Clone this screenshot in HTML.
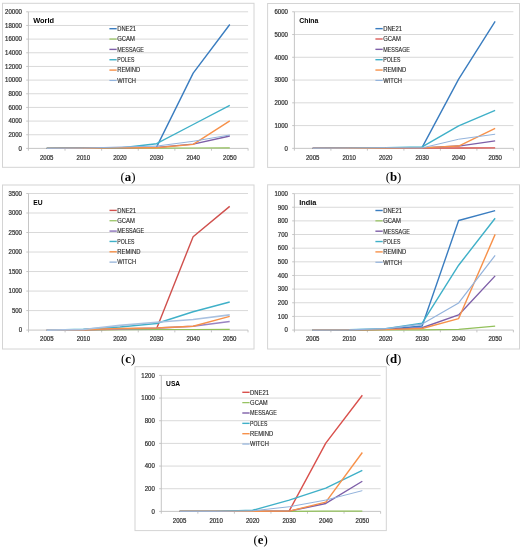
<!DOCTYPE html>
<html><head><meta charset="utf-8"><style>
html,body{margin:0;padding:0;background:#fff;}
body{width:523px;height:550px;overflow:hidden;}
svg{display:block;}
.ax{font-family:"Liberation Sans",Arial,sans-serif;font-size:6.3px;fill:#333333;stroke:#333333;stroke-width:0.22px;}
.lg{font-family:"Liberation Sans",Arial,sans-serif;font-size:6.4px;fill:#262626;stroke:#262626;stroke-width:0.12px;}
.ti{font-family:"Liberation Sans",Arial,sans-serif;font-size:7.9px;font-weight:bold;fill:#000;}
.cap{font-family:"Liberation Serif","Times New Roman",serif;font-size:12.8px;fill:#000;}
</style></head><body>
<svg width="523" height="550" viewBox="0 0 523 550">
<rect width="523" height="550" fill="#fff"/>
<rect x="2.5" y="3.3" width="251.5" height="164" fill="#fff" stroke="#d4d4d4" stroke-width="1"/>
<path d="M28.4 134.74H248.1M28.4 121.08H248.1M28.4 107.42H248.1M28.4 93.76H248.1M28.4 80.1H248.1M28.4 66.44H248.1M28.4 52.78H248.1M28.4 39.12H248.1M28.4 25.46H248.1M28.4 11.8H248.1" stroke="#d9d9d9" stroke-width="1" fill="none"/>
<path d="M28.4 11.8V148.4M26.2 148.4H248.1M26.2 134.74H28.4M26.2 121.08H28.4M26.2 107.42H28.4M26.2 93.76H28.4M26.2 80.1H28.4M26.2 66.44H28.4M26.2 52.78H28.4M26.2 39.12H28.4M26.2 25.46H28.4M26.2 11.8H28.4M28.4 148.4V150.7M65.02 148.4V150.7M101.63 148.4V150.7M138.25 148.4V150.7M174.87 148.4V150.7M211.48 148.4V150.7M248.1 148.4V150.7" stroke="#bfbfbf" stroke-width="0.9" fill="none"/>
<text x="21.9" y="150.7" class="ax" text-anchor="end" textLength="3.37" lengthAdjust="spacingAndGlyphs">0</text>
<text x="21.9" y="137.04" class="ax" text-anchor="end" textLength="13.48" lengthAdjust="spacingAndGlyphs">2000</text>
<text x="21.9" y="123.38" class="ax" text-anchor="end" textLength="13.48" lengthAdjust="spacingAndGlyphs">4000</text>
<text x="21.9" y="109.72" class="ax" text-anchor="end" textLength="13.48" lengthAdjust="spacingAndGlyphs">6000</text>
<text x="21.9" y="96.06" class="ax" text-anchor="end" textLength="13.48" lengthAdjust="spacingAndGlyphs">8000</text>
<text x="21.9" y="82.4" class="ax" text-anchor="end" textLength="16.85" lengthAdjust="spacingAndGlyphs">10000</text>
<text x="21.9" y="68.74" class="ax" text-anchor="end" textLength="16.85" lengthAdjust="spacingAndGlyphs">12000</text>
<text x="21.9" y="55.08" class="ax" text-anchor="end" textLength="16.85" lengthAdjust="spacingAndGlyphs">14000</text>
<text x="21.9" y="41.42" class="ax" text-anchor="end" textLength="16.85" lengthAdjust="spacingAndGlyphs">16000</text>
<text x="21.9" y="27.76" class="ax" text-anchor="end" textLength="16.85" lengthAdjust="spacingAndGlyphs">18000</text>
<text x="21.9" y="14.1" class="ax" text-anchor="end" textLength="16.85" lengthAdjust="spacingAndGlyphs">20000</text>
<text x="46.71" y="159.7" class="ax" text-anchor="middle" textLength="13.48" lengthAdjust="spacingAndGlyphs">2005</text>
<text x="83.32" y="159.7" class="ax" text-anchor="middle" textLength="13.48" lengthAdjust="spacingAndGlyphs">2010</text>
<text x="119.94" y="159.7" class="ax" text-anchor="middle" textLength="13.48" lengthAdjust="spacingAndGlyphs">2020</text>
<text x="156.56" y="159.7" class="ax" text-anchor="middle" textLength="13.48" lengthAdjust="spacingAndGlyphs">2030</text>
<text x="193.18" y="159.7" class="ax" text-anchor="middle" textLength="13.48" lengthAdjust="spacingAndGlyphs">2040</text>
<text x="229.79" y="159.7" class="ax" text-anchor="middle" textLength="13.48" lengthAdjust="spacingAndGlyphs">2050</text>
<text x="33.2" y="22.8" class="ti" textLength="20.85" lengthAdjust="spacingAndGlyphs">World</text>
<polyline points="46.71,148.4 83.32,148.26 119.94,147.72 156.56,147.1 193.18,73.09 229.79,24.52" fill="none" stroke="#3a7dc0" stroke-width="1.4" stroke-linejoin="round" stroke-linecap="butt"/>
<polyline points="46.71,148.4 83.32,148.37 119.94,148.26 156.56,148.2 193.18,147.99 229.79,147.79" fill="none" stroke="#92c05a" stroke-width="1.2" stroke-linejoin="round" stroke-linecap="butt"/>
<polyline points="46.71,148.4 83.32,148.26 119.94,147.85 156.56,147.38 193.18,144.17 229.79,135.97" fill="none" stroke="#7e5fa8" stroke-width="1.4" stroke-linejoin="round" stroke-linecap="butt"/>
<polyline points="46.71,148.4 83.32,148.26 119.94,147.99 156.56,143.69 193.18,124.5 229.79,105.41" fill="none" stroke="#3fb0c8" stroke-width="1.4" stroke-linejoin="round" stroke-linecap="butt"/>
<polyline points="46.71,148.4 83.32,148.2 119.94,147.72 156.56,147.72 193.18,144.37 229.79,120.84" fill="none" stroke="#f7914a" stroke-width="1.4" stroke-linejoin="round" stroke-linecap="butt"/>
<polyline points="46.71,148.4 83.32,148.13 119.94,147.03 156.56,146.08 193.18,141.3 229.79,134.97" fill="none" stroke="#93b3dc" stroke-width="1.0" stroke-linejoin="round" stroke-linecap="butt"/>
<path d="M109.4 28.7H116.7" stroke="#3a7dc0" stroke-width="1.4"/>
<text x="117.2" y="31" class="lg" textLength="18.79" lengthAdjust="spacingAndGlyphs">DNE21</text>
<path d="M109.4 39.05H116.7" stroke="#92c05a" stroke-width="1.2"/>
<text x="117.2" y="41.35" class="lg" textLength="17.66" lengthAdjust="spacingAndGlyphs">GCAM</text>
<path d="M109.4 49.4H116.7" stroke="#7e5fa8" stroke-width="1.4"/>
<text x="117.2" y="51.7" class="lg" textLength="26.76" lengthAdjust="spacingAndGlyphs">MESSAGE</text>
<path d="M109.4 59.75H116.7" stroke="#3fb0c8" stroke-width="1.4"/>
<text x="117.2" y="62.05" class="lg" textLength="17.25" lengthAdjust="spacingAndGlyphs">POLES</text>
<path d="M109.4 70.1H116.7" stroke="#f7914a" stroke-width="1.4"/>
<text x="117.2" y="72.4" class="lg" textLength="23.11" lengthAdjust="spacingAndGlyphs">REMIND</text>
<path d="M109.4 80.45H116.7" stroke="#93b3dc" stroke-width="1.2"/>
<text x="117.2" y="82.75" class="lg" textLength="18.8" lengthAdjust="spacingAndGlyphs">WITCH</text>
<text x="128" y="180.6" class="cap" text-anchor="middle">(<tspan font-weight="bold">a</tspan>)</text>
<rect x="267.6" y="3.5" width="251.9" height="163.9" fill="#fff" stroke="#d4d4d4" stroke-width="1"/>
<path d="M294.4 125.58H513.4M294.4 102.82H513.4M294.4 80.05H513.4M294.4 57.28H513.4M294.4 34.52H513.4M294.4 11.75H513.4" stroke="#d9d9d9" stroke-width="1" fill="none"/>
<path d="M294.4 11.75V148.35M292.2 148.35H513.4M292.2 125.58H294.4M292.2 102.82H294.4M292.2 80.05H294.4M292.2 57.28H294.4M292.2 34.52H294.4M292.2 11.75H294.4M294.4 148.35V150.65M330.9 148.35V150.65M367.4 148.35V150.65M403.9 148.35V150.65M440.4 148.35V150.65M476.9 148.35V150.65M513.4 148.35V150.65" stroke="#bfbfbf" stroke-width="0.9" fill="none"/>
<text x="287.9" y="150.65" class="ax" text-anchor="end" textLength="3.37" lengthAdjust="spacingAndGlyphs">0</text>
<text x="287.9" y="127.88" class="ax" text-anchor="end" textLength="13.48" lengthAdjust="spacingAndGlyphs">1000</text>
<text x="287.9" y="105.12" class="ax" text-anchor="end" textLength="13.48" lengthAdjust="spacingAndGlyphs">2000</text>
<text x="287.9" y="82.35" class="ax" text-anchor="end" textLength="13.48" lengthAdjust="spacingAndGlyphs">3000</text>
<text x="287.9" y="59.58" class="ax" text-anchor="end" textLength="13.48" lengthAdjust="spacingAndGlyphs">4000</text>
<text x="287.9" y="36.82" class="ax" text-anchor="end" textLength="13.48" lengthAdjust="spacingAndGlyphs">5000</text>
<text x="287.9" y="14.05" class="ax" text-anchor="end" textLength="13.48" lengthAdjust="spacingAndGlyphs">6000</text>
<text x="312.65" y="159.65" class="ax" text-anchor="middle" textLength="13.48" lengthAdjust="spacingAndGlyphs">2005</text>
<text x="349.15" y="159.65" class="ax" text-anchor="middle" textLength="13.48" lengthAdjust="spacingAndGlyphs">2010</text>
<text x="385.65" y="159.65" class="ax" text-anchor="middle" textLength="13.48" lengthAdjust="spacingAndGlyphs">2020</text>
<text x="422.15" y="159.65" class="ax" text-anchor="middle" textLength="13.48" lengthAdjust="spacingAndGlyphs">2030</text>
<text x="458.65" y="159.65" class="ax" text-anchor="middle" textLength="13.48" lengthAdjust="spacingAndGlyphs">2040</text>
<text x="495.15" y="159.65" class="ax" text-anchor="middle" textLength="13.48" lengthAdjust="spacingAndGlyphs">2050</text>
<text x="299.2" y="22.75" class="ti" textLength="19.2" lengthAdjust="spacingAndGlyphs">China</text>
<polyline points="312.65,148.35 349.15,148.24 385.65,147.89 422.15,147.44 458.65,79.14 495.15,21.31" fill="none" stroke="#3a7dc0" stroke-width="1.4" stroke-linejoin="round" stroke-linecap="butt"/>
<polyline points="312.65,148.35 349.15,148.35 385.65,148.24 422.15,148.12 458.65,148.01 495.15,147.89" fill="none" stroke="#d9504c" stroke-width="1.3" stroke-linejoin="round" stroke-linecap="butt"/>
<polyline points="312.65,148.35 349.15,148.24 385.65,148.12 422.15,147.89 458.65,146.07 495.15,140.84" fill="none" stroke="#7e5fa8" stroke-width="1.4" stroke-linejoin="round" stroke-linecap="butt"/>
<polyline points="312.65,148.35 349.15,148.12 385.65,147.67 422.15,146.98 458.65,125.81 495.15,110.44" fill="none" stroke="#3fb0c8" stroke-width="1.4" stroke-linejoin="round" stroke-linecap="butt"/>
<polyline points="312.65,148.35 349.15,148.24 385.65,148.12 422.15,147.89 458.65,146.07 495.15,128.43" fill="none" stroke="#f7914a" stroke-width="1.4" stroke-linejoin="round" stroke-linecap="butt"/>
<polyline points="312.65,148.35 349.15,148.12 385.65,147.67 422.15,147.89 458.65,139.24 495.15,134.23" fill="none" stroke="#93b3dc" stroke-width="1.0" stroke-linejoin="round" stroke-linecap="butt"/>
<path d="M375.4 28.65H382.7" stroke="#3a7dc0" stroke-width="1.4"/>
<text x="383.2" y="30.95" class="lg" textLength="18.79" lengthAdjust="spacingAndGlyphs">DNE21</text>
<path d="M375.4 39H382.7" stroke="#d9504c" stroke-width="1.3"/>
<text x="383.2" y="41.3" class="lg" textLength="17.66" lengthAdjust="spacingAndGlyphs">GCAM</text>
<path d="M375.4 49.35H382.7" stroke="#7e5fa8" stroke-width="1.4"/>
<text x="383.2" y="51.65" class="lg" textLength="26.76" lengthAdjust="spacingAndGlyphs">MESSAGE</text>
<path d="M375.4 59.7H382.7" stroke="#3fb0c8" stroke-width="1.4"/>
<text x="383.2" y="62" class="lg" textLength="17.25" lengthAdjust="spacingAndGlyphs">POLES</text>
<path d="M375.4 70.05H382.7" stroke="#f7914a" stroke-width="1.4"/>
<text x="383.2" y="72.35" class="lg" textLength="23.11" lengthAdjust="spacingAndGlyphs">REMIND</text>
<path d="M375.4 80.4H382.7" stroke="#93b3dc" stroke-width="1.2"/>
<text x="383.2" y="82.7" class="lg" textLength="18.8" lengthAdjust="spacingAndGlyphs">WITCH</text>
<text x="393.5" y="180.6" class="cap" text-anchor="middle">(<tspan font-weight="bold">b</tspan>)</text>
<rect x="2.5" y="185" width="251.5" height="164" fill="#fff" stroke="#d4d4d4" stroke-width="1"/>
<path d="M28.5 310.59H248M28.5 291.07H248M28.5 271.56H248M28.5 252.04H248M28.5 232.53H248M28.5 213.01H248M28.5 193.5H248" stroke="#d9d9d9" stroke-width="1" fill="none"/>
<path d="M28.5 193.5V330.1M26.3 330.1H248M26.3 310.59H28.5M26.3 291.07H28.5M26.3 271.56H28.5M26.3 252.04H28.5M26.3 232.53H28.5M26.3 213.01H28.5M26.3 193.5H28.5M28.5 330.1V332.4M65.08 330.1V332.4M101.67 330.1V332.4M138.25 330.1V332.4M174.83 330.1V332.4M211.42 330.1V332.4M248 330.1V332.4" stroke="#bfbfbf" stroke-width="0.9" fill="none"/>
<text x="22" y="332.4" class="ax" text-anchor="end" textLength="3.37" lengthAdjust="spacingAndGlyphs">0</text>
<text x="22" y="312.89" class="ax" text-anchor="end" textLength="10.11" lengthAdjust="spacingAndGlyphs">500</text>
<text x="22" y="293.37" class="ax" text-anchor="end" textLength="13.48" lengthAdjust="spacingAndGlyphs">1000</text>
<text x="22" y="273.86" class="ax" text-anchor="end" textLength="13.48" lengthAdjust="spacingAndGlyphs">1500</text>
<text x="22" y="254.34" class="ax" text-anchor="end" textLength="13.48" lengthAdjust="spacingAndGlyphs">2000</text>
<text x="22" y="234.83" class="ax" text-anchor="end" textLength="13.48" lengthAdjust="spacingAndGlyphs">2500</text>
<text x="22" y="215.31" class="ax" text-anchor="end" textLength="13.48" lengthAdjust="spacingAndGlyphs">3000</text>
<text x="22" y="195.8" class="ax" text-anchor="end" textLength="13.48" lengthAdjust="spacingAndGlyphs">3500</text>
<text x="46.79" y="341.4" class="ax" text-anchor="middle" textLength="13.48" lengthAdjust="spacingAndGlyphs">2005</text>
<text x="83.38" y="341.4" class="ax" text-anchor="middle" textLength="13.48" lengthAdjust="spacingAndGlyphs">2010</text>
<text x="119.96" y="341.4" class="ax" text-anchor="middle" textLength="13.48" lengthAdjust="spacingAndGlyphs">2020</text>
<text x="156.54" y="341.4" class="ax" text-anchor="middle" textLength="13.48" lengthAdjust="spacingAndGlyphs">2030</text>
<text x="193.12" y="341.4" class="ax" text-anchor="middle" textLength="13.48" lengthAdjust="spacingAndGlyphs">2040</text>
<text x="229.71" y="341.4" class="ax" text-anchor="middle" textLength="13.48" lengthAdjust="spacingAndGlyphs">2050</text>
<text x="33.3" y="204.5" class="ti" textLength="9.35" lengthAdjust="spacingAndGlyphs">EU</text>
<polyline points="46.79,330.1 83.38,329.71 119.96,329.32 156.54,328.81 193.12,236.67 229.71,206.34" fill="none" stroke="#d0504d" stroke-width="1.4" stroke-linejoin="round" stroke-linecap="butt"/>
<polyline points="46.79,330.1 83.38,329.9 119.96,329.71 156.54,329.51 193.12,329.51 229.71,329.32" fill="none" stroke="#92c05a" stroke-width="1.2" stroke-linejoin="round" stroke-linecap="butt"/>
<polyline points="46.79,330.1 83.38,329.71 119.96,328.93 156.54,328.15 193.12,326.2 229.71,321.44" fill="none" stroke="#9a84c2" stroke-width="1.6" stroke-linejoin="round" stroke-linecap="butt"/>
<polyline points="46.79,330.1 83.38,329.32 119.96,326.98 156.54,323.47 193.12,311.76 229.71,301.96" fill="none" stroke="#3fb0c8" stroke-width="1.4" stroke-linejoin="round" stroke-linecap="butt"/>
<polyline points="46.79,330.1 83.38,329.71 119.96,328.54 156.54,327.95 193.12,326.2 229.71,316.44" fill="none" stroke="#f7914a" stroke-width="1.4" stroke-linejoin="round" stroke-linecap="butt"/>
<polyline points="46.79,330.1 83.38,329.51 119.96,325.42 156.54,322.29 193.12,319.56 229.71,314.88" fill="none" stroke="#a9c1e0" stroke-width="1.6" stroke-linejoin="round" stroke-linecap="butt"/>
<path d="M109.5 210.4H116.8" stroke="#d0504d" stroke-width="1.4"/>
<text x="117.3" y="212.7" class="lg" textLength="18.79" lengthAdjust="spacingAndGlyphs">DNE21</text>
<path d="M109.5 220.75H116.8" stroke="#92c05a" stroke-width="1.2"/>
<text x="117.3" y="223.05" class="lg" textLength="17.66" lengthAdjust="spacingAndGlyphs">GCAM</text>
<path d="M109.5 231.1H116.8" stroke="#9a84c2" stroke-width="1.6"/>
<text x="117.3" y="233.4" class="lg" textLength="26.76" lengthAdjust="spacingAndGlyphs">MESSAGE</text>
<path d="M109.5 241.45H116.8" stroke="#3fb0c8" stroke-width="1.4"/>
<text x="117.3" y="243.75" class="lg" textLength="17.25" lengthAdjust="spacingAndGlyphs">POLES</text>
<path d="M109.5 251.8H116.8" stroke="#f7914a" stroke-width="1.4"/>
<text x="117.3" y="254.1" class="lg" textLength="23.11" lengthAdjust="spacingAndGlyphs">REMIND</text>
<path d="M109.5 262.15H116.8" stroke="#a9c1e0" stroke-width="1.6"/>
<text x="117.3" y="264.45" class="lg" textLength="18.8" lengthAdjust="spacingAndGlyphs">WITCH</text>
<text x="128.2" y="362.6" class="cap" text-anchor="middle">(<tspan font-weight="bold">c</tspan>)</text>
<rect x="267.6" y="184.8" width="251.9" height="164.2" fill="#fff" stroke="#d4d4d4" stroke-width="1"/>
<path d="M294.4 316.41H513.4M294.4 302.76H513.4M294.4 289.12H513.4M294.4 275.47H513.4M294.4 261.82H513.4M294.4 248.18H513.4M294.4 234.53H513.4M294.4 220.89H513.4M294.4 207.25H513.4M294.4 193.6H513.4" stroke="#d9d9d9" stroke-width="1" fill="none"/>
<path d="M294.4 193.6V330.05M292.2 330.05H513.4M292.2 316.41H294.4M292.2 302.76H294.4M292.2 289.12H294.4M292.2 275.47H294.4M292.2 261.82H294.4M292.2 248.18H294.4M292.2 234.53H294.4M292.2 220.89H294.4M292.2 207.25H294.4M292.2 193.6H294.4M294.4 330.05V332.35M330.9 330.05V332.35M367.4 330.05V332.35M403.9 330.05V332.35M440.4 330.05V332.35M476.9 330.05V332.35M513.4 330.05V332.35" stroke="#bfbfbf" stroke-width="0.9" fill="none"/>
<text x="287.9" y="332.35" class="ax" text-anchor="end" textLength="3.37" lengthAdjust="spacingAndGlyphs">0</text>
<text x="287.9" y="318.71" class="ax" text-anchor="end" textLength="10.11" lengthAdjust="spacingAndGlyphs">100</text>
<text x="287.9" y="305.06" class="ax" text-anchor="end" textLength="10.11" lengthAdjust="spacingAndGlyphs">200</text>
<text x="287.9" y="291.42" class="ax" text-anchor="end" textLength="10.11" lengthAdjust="spacingAndGlyphs">300</text>
<text x="287.9" y="277.77" class="ax" text-anchor="end" textLength="10.11" lengthAdjust="spacingAndGlyphs">400</text>
<text x="287.9" y="264.12" class="ax" text-anchor="end" textLength="10.11" lengthAdjust="spacingAndGlyphs">500</text>
<text x="287.9" y="250.48" class="ax" text-anchor="end" textLength="10.11" lengthAdjust="spacingAndGlyphs">600</text>
<text x="287.9" y="236.84" class="ax" text-anchor="end" textLength="10.11" lengthAdjust="spacingAndGlyphs">700</text>
<text x="287.9" y="223.19" class="ax" text-anchor="end" textLength="10.11" lengthAdjust="spacingAndGlyphs">800</text>
<text x="287.9" y="209.55" class="ax" text-anchor="end" textLength="10.11" lengthAdjust="spacingAndGlyphs">900</text>
<text x="287.9" y="195.9" class="ax" text-anchor="end" textLength="13.48" lengthAdjust="spacingAndGlyphs">1000</text>
<text x="312.65" y="341.35" class="ax" text-anchor="middle" textLength="13.48" lengthAdjust="spacingAndGlyphs">2005</text>
<text x="349.15" y="341.35" class="ax" text-anchor="middle" textLength="13.48" lengthAdjust="spacingAndGlyphs">2010</text>
<text x="385.65" y="341.35" class="ax" text-anchor="middle" textLength="13.48" lengthAdjust="spacingAndGlyphs">2020</text>
<text x="422.15" y="341.35" class="ax" text-anchor="middle" textLength="13.48" lengthAdjust="spacingAndGlyphs">2030</text>
<text x="458.65" y="341.35" class="ax" text-anchor="middle" textLength="13.48" lengthAdjust="spacingAndGlyphs">2040</text>
<text x="495.15" y="341.35" class="ax" text-anchor="middle" textLength="13.48" lengthAdjust="spacingAndGlyphs">2050</text>
<text x="299.2" y="204.6" class="ti" textLength="17.05" lengthAdjust="spacingAndGlyphs">India</text>
<polyline points="312.65,330.05 349.15,329.91 385.65,329.37 422.15,325.96 458.65,220.48 495.15,210.66" fill="none" stroke="#3a7dc0" stroke-width="1.4" stroke-linejoin="round" stroke-linecap="butt"/>
<polyline points="312.65,330.05 349.15,330.05 385.65,329.91 422.15,329.78 458.65,329.37 495.15,326.09" fill="none" stroke="#92c05a" stroke-width="1.2" stroke-linejoin="round" stroke-linecap="butt"/>
<polyline points="312.65,330.05 349.15,329.91 385.65,329.37 422.15,327.73 458.65,314.9 495.15,275.88" fill="none" stroke="#7e5fa8" stroke-width="1.4" stroke-linejoin="round" stroke-linecap="butt"/>
<polyline points="312.65,330.05 349.15,329.78 385.65,328.69 422.15,323.23 458.65,265.24 495.15,218.3" fill="none" stroke="#3fb0c8" stroke-width="1.4" stroke-linejoin="round" stroke-linecap="butt"/>
<polyline points="312.65,330.05 349.15,329.91 385.65,329.64 422.15,328.55 458.65,318.59 495.15,234.4" fill="none" stroke="#f7914a" stroke-width="1.4" stroke-linejoin="round" stroke-linecap="butt"/>
<polyline points="312.65,330.05 349.15,329.78 385.65,328.69 422.15,324.05 458.65,302.9 495.15,255.28" fill="none" stroke="#93b3dc" stroke-width="1.2" stroke-linejoin="round" stroke-linecap="butt"/>
<path d="M375.4 210.5H382.7" stroke="#3a7dc0" stroke-width="1.4"/>
<text x="383.2" y="212.8" class="lg" textLength="18.79" lengthAdjust="spacingAndGlyphs">DNE21</text>
<path d="M375.4 220.85H382.7" stroke="#92c05a" stroke-width="1.2"/>
<text x="383.2" y="223.15" class="lg" textLength="17.66" lengthAdjust="spacingAndGlyphs">GCAM</text>
<path d="M375.4 231.2H382.7" stroke="#7e5fa8" stroke-width="1.4"/>
<text x="383.2" y="233.5" class="lg" textLength="26.76" lengthAdjust="spacingAndGlyphs">MESSAGE</text>
<path d="M375.4 241.55H382.7" stroke="#3fb0c8" stroke-width="1.4"/>
<text x="383.2" y="243.85" class="lg" textLength="17.25" lengthAdjust="spacingAndGlyphs">POLES</text>
<path d="M375.4 251.9H382.7" stroke="#f7914a" stroke-width="1.4"/>
<text x="383.2" y="254.2" class="lg" textLength="23.11" lengthAdjust="spacingAndGlyphs">REMIND</text>
<path d="M375.4 262.25H382.7" stroke="#93b3dc" stroke-width="1.2"/>
<text x="383.2" y="264.55" class="lg" textLength="18.8" lengthAdjust="spacingAndGlyphs">WITCH</text>
<text x="393.5" y="362.6" class="cap" text-anchor="middle">(<tspan font-weight="bold">d</tspan>)</text>
<rect x="135" y="366.7" width="251.3" height="163.9" fill="#fff" stroke="#d4d4d4" stroke-width="1"/>
<path d="M161.3 488.73H380.6M161.3 466.07H380.6M161.3 443.4H380.6M161.3 420.73H380.6M161.3 398.07H380.6M161.3 375.4H380.6" stroke="#d9d9d9" stroke-width="1" fill="none"/>
<path d="M161.3 375.4V511.4M159.1 511.4H380.6M159.1 488.73H161.3M159.1 466.07H161.3M159.1 443.4H161.3M159.1 420.73H161.3M159.1 398.07H161.3M159.1 375.4H161.3M161.3 511.4V513.7M197.85 511.4V513.7M234.4 511.4V513.7M270.95 511.4V513.7M307.5 511.4V513.7M344.05 511.4V513.7M380.6 511.4V513.7" stroke="#bfbfbf" stroke-width="0.9" fill="none"/>
<text x="154.8" y="513.7" class="ax" text-anchor="end" textLength="3.37" lengthAdjust="spacingAndGlyphs">0</text>
<text x="154.8" y="491.03" class="ax" text-anchor="end" textLength="10.11" lengthAdjust="spacingAndGlyphs">200</text>
<text x="154.8" y="468.37" class="ax" text-anchor="end" textLength="10.11" lengthAdjust="spacingAndGlyphs">400</text>
<text x="154.8" y="445.7" class="ax" text-anchor="end" textLength="10.11" lengthAdjust="spacingAndGlyphs">600</text>
<text x="154.8" y="423.03" class="ax" text-anchor="end" textLength="10.11" lengthAdjust="spacingAndGlyphs">800</text>
<text x="154.8" y="400.37" class="ax" text-anchor="end" textLength="13.48" lengthAdjust="spacingAndGlyphs">1000</text>
<text x="154.8" y="377.7" class="ax" text-anchor="end" textLength="13.48" lengthAdjust="spacingAndGlyphs">1200</text>
<text x="179.58" y="522.7" class="ax" text-anchor="middle" textLength="13.48" lengthAdjust="spacingAndGlyphs">2005</text>
<text x="216.12" y="522.7" class="ax" text-anchor="middle" textLength="13.48" lengthAdjust="spacingAndGlyphs">2010</text>
<text x="252.68" y="522.7" class="ax" text-anchor="middle" textLength="13.48" lengthAdjust="spacingAndGlyphs">2020</text>
<text x="289.23" y="522.7" class="ax" text-anchor="middle" textLength="13.48" lengthAdjust="spacingAndGlyphs">2030</text>
<text x="325.78" y="522.7" class="ax" text-anchor="middle" textLength="13.48" lengthAdjust="spacingAndGlyphs">2040</text>
<text x="362.33" y="522.7" class="ax" text-anchor="middle" textLength="13.48" lengthAdjust="spacingAndGlyphs">2050</text>
<text x="166.1" y="386.4" class="ti" textLength="14.1" lengthAdjust="spacingAndGlyphs">USA</text>
<polyline points="179.58,511.4 216.12,511.4 252.68,511.4 289.23,510.83 325.78,443.06 362.33,395.23" fill="none" stroke="#d9504c" stroke-width="1.4" stroke-linejoin="round" stroke-linecap="butt"/>
<polyline points="179.58,511.4 216.12,511.4 252.68,511.4 289.23,511.4 325.78,511.17 362.33,511.06" fill="none" stroke="#92c05a" stroke-width="1.2" stroke-linejoin="round" stroke-linecap="butt"/>
<polyline points="179.58,511.4 216.12,511.4 252.68,511.4 289.23,511.17 325.78,503.47 362.33,481.25" fill="none" stroke="#7e5fa8" stroke-width="1.4" stroke-linejoin="round" stroke-linecap="butt"/>
<polyline points="179.58,511.4 216.12,511.4 252.68,510.27 289.23,500.07 325.78,488.17 362.33,470.26" fill="none" stroke="#3fb0c8" stroke-width="1.4" stroke-linejoin="round" stroke-linecap="butt"/>
<polyline points="179.58,511.4 216.12,511.4 252.68,511.4 289.23,511.17 325.78,502.11 362.33,452.47" fill="none" stroke="#f7914a" stroke-width="1.4" stroke-linejoin="round" stroke-linecap="butt"/>
<polyline points="179.58,511.4 216.12,511.4 252.68,510.83 289.23,506.75 325.78,500.07 362.33,490.66" fill="none" stroke="#93b3dc" stroke-width="1.0" stroke-linejoin="round" stroke-linecap="butt"/>
<path d="M242.3 392.3H249.6" stroke="#d9504c" stroke-width="1.4"/>
<text x="250.1" y="394.6" class="lg" textLength="18.79" lengthAdjust="spacingAndGlyphs">DNE21</text>
<path d="M242.3 402.65H249.6" stroke="#92c05a" stroke-width="1.2"/>
<text x="250.1" y="404.95" class="lg" textLength="17.66" lengthAdjust="spacingAndGlyphs">GCAM</text>
<path d="M242.3 413H249.6" stroke="#7e5fa8" stroke-width="1.4"/>
<text x="250.1" y="415.3" class="lg" textLength="26.76" lengthAdjust="spacingAndGlyphs">MESSAGE</text>
<path d="M242.3 423.35H249.6" stroke="#3fb0c8" stroke-width="1.4"/>
<text x="250.1" y="425.65" class="lg" textLength="17.25" lengthAdjust="spacingAndGlyphs">POLES</text>
<path d="M242.3 433.7H249.6" stroke="#f7914a" stroke-width="1.4"/>
<text x="250.1" y="436" class="lg" textLength="23.11" lengthAdjust="spacingAndGlyphs">REMIND</text>
<path d="M242.3 444.05H249.6" stroke="#93b3dc" stroke-width="1.2"/>
<text x="250.1" y="446.35" class="lg" textLength="18.8" lengthAdjust="spacingAndGlyphs">WITCH</text>
<text x="260.6" y="544" class="cap" text-anchor="middle">(<tspan font-weight="bold">e</tspan>)</text>
</svg>
</body></html>
